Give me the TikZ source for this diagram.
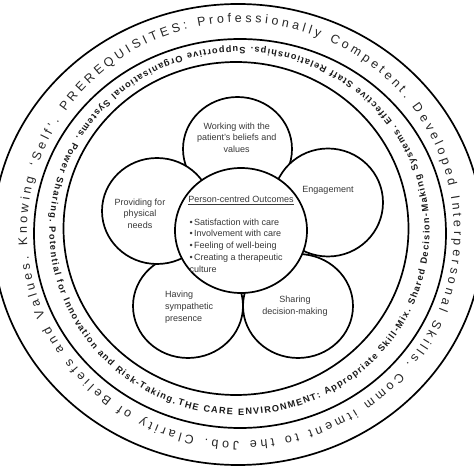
\documentclass[tikz,border=0pt]{standalone}
\usepackage{fontspec}
\setmainfont{Liberation Sans}
\usetikzlibrary{decorations.text}
\begin{document}
\begin{tikzpicture}[x=1pt,y=1pt,
  ring/.style={draw=black, line width=1.7pt},
  petal/.style={draw=black, line width=1.7pt, fill=white},
  ptext/.style={text=black!78, font=\fontsize{9}{11.7}\selectfont, inner sep=0pt, align=center}]
\useasboundingbox (0,0) rectangle (474,474);
\fill[white] (0,0) rectangle (474,474);
\begin{scope}
\clip (0,0) rectangle (474,474);
% rings
\draw[ring] (238,239.5) ellipse [x radius=245pt, y radius=230.5pt];
\draw[ring] (240,240.5) ellipse [x radius=206pt, y radius=194.5pt];
\draw[ring] (236,245.5) ellipse [x radius=172.5pt, y radius=166.5pt];
% outer ring text (clockwise)
\path[decorate, decoration={text along path, text color=black!85,
  text align={fit to path},
  text={|\fontsize{12.5}{14}\selectfont|PREREQUISITES: Professionally Competent. Developed Interpersonal Skills. Comm itment to the Job. Clarity of Beliefs and Values. Knowing `Self'.}}]
  ([shift={(145:213.5pt and 209.5pt)}]240.5,242) arc[start angle=145, end angle=-212, x radius=213.5pt, y radius=209.5pt];
% inner ring text (counterclockwise)
\path[decorate, decoration={text along path, text color=black!90,
  text align={fit to path},
  text={|\fontsize{9.2}{11}\selectfont\bfseries|THE CARE ENVIRONMENT: Appropriate Skill-Mix. Shared Decision-Making Systems. Effective Staff Relationships. Supportive Organisational Systems. Power Sharing. Potential for Innovation and Risk-Taking.}}]
  ([shift={(251:190pt and 184pt)}]239.5,243) arc[start angle=251, end angle=610, x radius=190pt, y radius=184pt];
\end{scope}
% petals
\draw[petal] (237.5,325) ellipse [x radius=54.5pt, y radius=52pt];
\draw[petal] (328,271.5) ellipse [x radius=55pt, y radius=54pt];
\draw[petal] (298,168) ellipse [x radius=55pt, y radius=52pt];
\draw[petal] (188,168) ellipse [x radius=55pt, y radius=52pt];
\draw[petal] (157,263) ellipse [x radius=55pt, y radius=53pt];
% centre
\draw[petal] (241,243.5) ellipse [x radius=66pt, y radius=62.5pt];
% texts
\node[ptext] (working) at (236.7,336.3) {Working with the\\patient's beliefs and\\values};
\node[ptext] (engagement) at (328,283.3) {Engagement};
\node[ptext] (providing) at (140,260.5) {Providing for\\physical\\needs};
\node[ptext, anchor=west, align=left] (having) at (165,167) {Having\\sympathetic\\presence};
\node[ptext] (sharing) at (295,168) {Sharing\\decision-making};
\node[ptext] (title) at (241,274) {\underline{Person-centred Outcomes}};
\node[ptext, anchor=west, align=left] (list) at (189.5,228.6) {\textbullet\hspace{1.2pt}Satisfaction with care\\\textbullet\hspace{1.2pt}Involvement with care\\\textbullet\hspace{1.2pt}Feeling of well-being\\\textbullet\hspace{1.2pt}Creating a therapeutic\\culture};
\end{tikzpicture}
\end{document}
